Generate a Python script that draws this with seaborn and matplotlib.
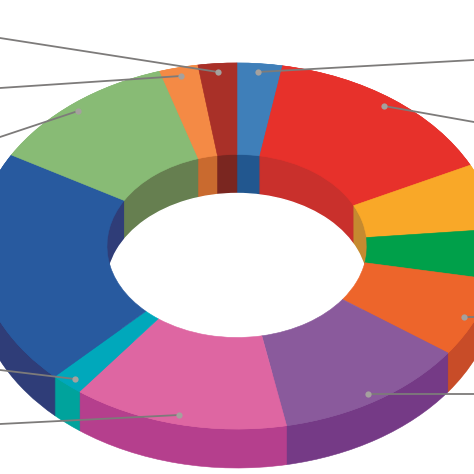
import matplotlib
matplotlib.use("Agg")
import matplotlib.pyplot as plt
import seaborn as sns

# shares of each slice, clockwise from 12 o'clock
shares = [2.8, 14.9, 5.8, 4.4, 7.0, 12.0, 13.4, 2.0, 20.9, 11.9, 2.4, 2.4]

top_colors = ["#3f7fb9", "#e7312b", "#f9a828", "#00a04a", "#ed652b", "#8a5a9c",
              "#de66a2", "#00a8bb", "#285a9f", "#88bb75", "#f48a45", "#a93028"]
side_colors = ["#22578f", "#c9302c", "#c58a30", "#00803b", "#c84c28", "#753a86",
               "#b53f8d", "#00a39c", "#2f3d78", "#667f50", "#c96a2f", "#7a2620"]

# leader lines in picture pixels: (outer end x, outer end y, dot x, dot y)
leaders = [(0, 38, 218, 72), (0, 88, 181, 76), (0, 137, 78, 111),
           (474, 60, 258, 72), (474, 122, 384, 106), (474, 317, 464, 317),
           (474, 394, 368, 394), (0, 424, 179, 415), (0, 370, 75, 379)]

center_x, center_y = 237, 246
radius_x, radius_y = 260, 183
depth = 39
hole = 0.5


def ring(ax, colors, offset, radius=1.0, width=None):
    props = {"linewidth": 0.4}
    if width is not None:
        props["width"] = width
    wedges, _ = ax.pie(shares, colors=colors, startangle=90, counterclock=False,
                       radius=radius, center=(0, -offset / radius_y), wedgeprops=props)
    for w in wedges:
        w.set_edgecolor(w.get_facecolor())


sns.set_theme(style="white")
fig = plt.figure(figsize=(4.74, 4.74), dpi=100)
ax = fig.add_axes([0, 0, 1, 1])

# outer side: stack of discs, lowest first
for off in range(depth, 0, -1):
    ring(ax, side_colors, off)

# the top face covers the outer side, then the far wall of the hole goes on it
ring(ax, top_colors, 0)
for off in range(0, depth):
    ring(ax, side_colors, off, radius=hole)
ax.pie([1], colors=["white"], radius=hole, center=(0, -depth / radius_y))

ring(ax, top_colors, 0, width=1 - hole)

ax.set_aspect("auto")
ax.set_xlim(-center_x / radius_x, (474 - center_x) / radius_x)
ax.set_ylim(-(474 - center_y) / radius_y, center_y / radius_y)
ax.axis("off")

# overlay in pixel coordinates for the callouts
overlay = fig.add_axes([0, 0, 1, 1], facecolor="none")
overlay.set_xlim(0, 474)
overlay.set_ylim(474, 0)
overlay.axis("off")
for x0, y0, x1, y1 in leaders:
    overlay.plot([x0, x1], [y0, y1], color="#7d7b7a", lw=1.3)
    overlay.plot(x1, y1, "o", color="#a5a19e", ms=4.5, mew=0)

fig.savefig("out.png", dpi=100)
